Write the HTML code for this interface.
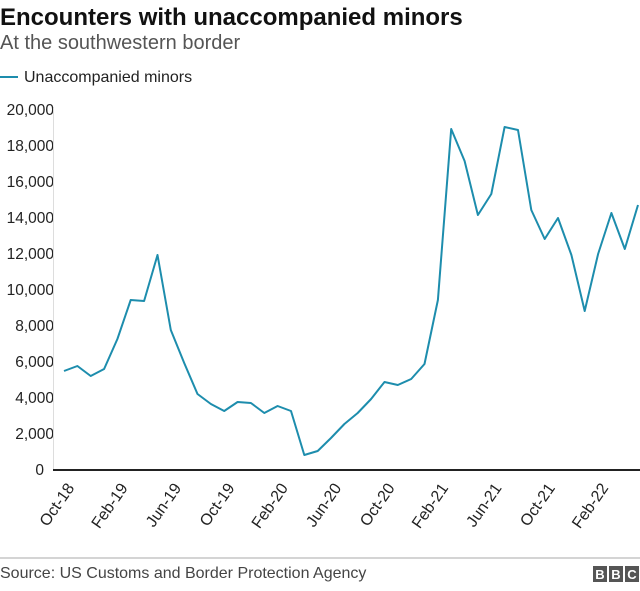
<!DOCTYPE html>
<html><head><style>
body{margin:0;background:#fff;width:640px;height:586px;overflow:hidden;font-family:"Liberation Sans",Arial,sans-serif}
</style></head><body>
<svg width="640" height="586" xmlns="http://www.w3.org/2000/svg" font-family="Liberation Sans, Arial, sans-serif">
<text x="0" y="25" font-size="24" font-weight="bold" fill="#111">Encounters with unaccompanied minors</text>
<text x="0" y="49" font-size="20" fill="#555">At the southwestern border</text>
<line x1="0" y1="77" x2="18" y2="77" stroke="#1d8dad" stroke-width="2"/>
<text x="24" y="82" font-size="16" fill="#222">Unaccompanied minors</text>
<g font-size="15.5" fill="#222" text-anchor="end">
<text x="54" y="115">20,000</text><text x="54" y="151">18,000</text><text x="54" y="187">16,000</text>
<text x="54" y="223">14,000</text><text x="54" y="259">12,000</text><text x="54" y="295">10,000</text>
<text x="54" y="331">8,000</text><text x="54" y="367">6,000</text><text x="54" y="403">4,000</text>
<text x="54" y="439">2,000</text><text x="44" y="475">0</text>
</g>
<line x1="53.5" y1="108" x2="53.5" y2="469" stroke="#ddd" stroke-width="1"/>
<line x1="53" y1="470" x2="640" y2="470" stroke="#222" stroke-width="2"/>
<polyline fill="none" stroke="#1d8dad" stroke-width="2" stroke-linejoin="round" points="64,371 77.4,366 90.7,376 104.1,369 117.4,339 130.7,300 144.1,301 157.5,255 170.8,330 184.2,363 197.5,394 210.9,404 224.2,411 237.6,402 250.9,403 264.3,413 277.6,406 291,411 304.3,455 317.7,451 331,438 344.4,424 357.7,413 371.1,399 384.5,382 397.8,385 411.2,379 424.5,364 437.9,300 451.2,129 464.6,161 477.9,215 491.3,194 504.6,127 518,130 531.3,210 544.7,239 558,218 571.4,255 584.7,311 598.1,254 611.4,213 624.8,249 638,205"/>
<g font-size="16" fill="#222" text-anchor="end">
<text transform="translate(75,488) rotate(-55)">Oct-18</text>
<text transform="translate(128.4,488) rotate(-55)">Feb-19</text>
<text transform="translate(181.8,488) rotate(-55)">Jun-19</text>
<text transform="translate(235.2,488) rotate(-55)">Oct-19</text>
<text transform="translate(288.6,488) rotate(-55)">Feb-20</text>
<text transform="translate(342,488) rotate(-55)">Jun-20</text>
<text transform="translate(395.4,488) rotate(-55)">Oct-20</text>
<text transform="translate(448.8,488) rotate(-55)">Feb-21</text>
<text transform="translate(502.2,488) rotate(-55)">Jun-21</text>
<text transform="translate(555.6,488) rotate(-55)">Oct-21</text>
<text transform="translate(609,488) rotate(-55)">Feb-22</text>
</g>
<line x1="0" y1="558" x2="640" y2="558" stroke="#aaa" stroke-width="1"/>
<text x="0" y="578" font-size="16" fill="#444">Source: US Customs and Border Protection Agency</text>
<g font-size="13" font-weight="bold" fill="#fff" text-anchor="middle">
<rect x="593" y="566" width="14" height="16" fill="#555"/><text x="600" y="579">B</text>
<rect x="609" y="566" width="14" height="16" fill="#555"/><text x="616" y="579">B</text>
<rect x="625" y="566" width="14" height="16" fill="#555"/><text x="632" y="579">C</text>
</g>
</svg>
</body></html>
